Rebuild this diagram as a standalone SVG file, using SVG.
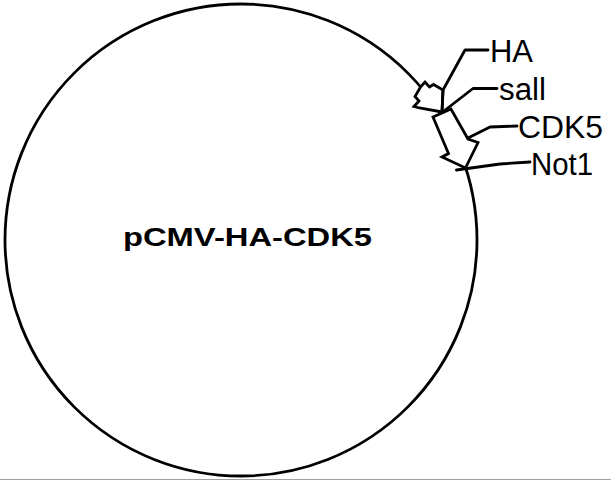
<svg xmlns="http://www.w3.org/2000/svg" width="611" height="481" viewBox="0 0 611 481">
<style>
.ln{fill:none;stroke:#000;stroke-width:2.8;stroke-linejoin:round;stroke-linecap:round}
.feat{fill:#fff;stroke:#000;stroke-width:2.8;stroke-linejoin:miter}
.lbl{font-family:"Liberation Sans",Arial,sans-serif;font-size:31px;fill:#000}
.title{font-family:"Liberation Sans",Arial,sans-serif;font-size:25px;font-weight:bold;fill:#000}
</style>
<rect x="0" y="0" width="611" height="481" fill="#fff"/>
<line x1="0" y1="479.5" x2="611" y2="479.5" stroke="#a0a0a0" stroke-width="1"/>
<g id="plasmid">
<circle cx="241" cy="240" r="236" class="ln"/>
<text class="title" x="123" y="246" textLength="249" lengthAdjust="spacingAndGlyphs">pCMV-HA-CDK5</text>
</g>
<g id="HA-feature">
<polygon class="feat" points="420.5,87 425,82 429.5,87 433.5,84.5 443,90 442,112 419.5,108 414,106.5 419,101 415,96.5"/>
</g>
<g id="CDK5-feature">
<polygon class="feat" points="433,117 451,109 468,139 478,142.5 465.5,168 442,157 448.5,153.5"/>
</g>
<g id="connectors">
<polyline class="ln" points="442,112 443,90 465,50 488,50"/>
<polyline class="ln" points="442,112.5 473,88.5 497,88.5"/>
<polyline class="ln" points="468,138 490,127 517,126"/>
<polyline class="ln" points="456.5,170 500,164 530,162"/>
</g>
<g id="labels">
<text class="lbl" x="490" y="62" textLength="43" lengthAdjust="spacingAndGlyphs">HA</text>
<text class="lbl" x="499" y="100" textLength="47" lengthAdjust="spacingAndGlyphs">sall</text>
<text class="lbl" x="518" y="138" textLength="85" lengthAdjust="spacingAndGlyphs">CDK5</text>
<text class="lbl" x="531" y="175" textLength="62" lengthAdjust="spacingAndGlyphs">Not1</text>
</g>
</svg>
